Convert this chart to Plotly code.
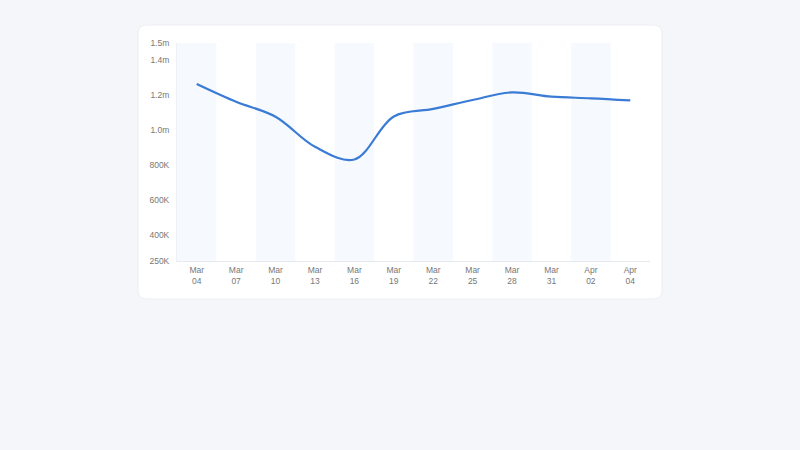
import plotly.graph_objects as go

categories = ["Mar 04", "Mar 07", "Mar 10", "Mar 13", "Mar 16", "Mar 19",
              "Mar 22", "Mar 25", "Mar 28", "Mar 31", "Apr 02", "Apr 04"]
tick_text = [c.replace(" ", "<br>") for c in categories]
values = [1265000, 1163000, 1077000, 905000, 832000, 1079000,
          1122000, 1173000, 1217000, 1192000, 1183000, 1171000]
y_tickvals = [250000, 400000, 600000, 800000, 1000000, 1200000, 1400000, 1500000]
y_ticktext = ["250K", "400K", "600K", "800K", "1.0m", "1.2m", "1.4m", "1.5m"]

L, R, T, B = 177, 150, 43, 189
W, H = 800, 450
pw, ph = W - L - R, H - T - B

def px_x(x):
    return (x - L) / pw

def px_y(y):
    return (H - B - y) / ph

# Card rounded rect path in paper coords
cx0, cx1, cy0, cy1 = px_x(138), px_x(662), px_y(299), px_y(25)
rx, ry = 9 / pw, 9 / ph
card = (f"M {cx0+rx},{cy0} L {cx1-rx},{cy0} Q {cx1},{cy0} {cx1},{cy0+ry} "
        f"L {cx1},{cy1-ry} Q {cx1},{cy1} {cx1-rx},{cy1} L {cx0+rx},{cy1} "
        f"Q {cx0},{cy1} {cx0},{cy1-ry} L {cx0},{cy0+ry} Q {cx0},{cy0} {cx0+rx},{cy0} Z")

shapes = [dict(type="path", path=card, xref="paper", yref="paper",
               fillcolor="white", line=dict(color="#eceef2", width=1), layer="below")]
for i in range(0, len(categories), 2):
    shapes.append(dict(type="rect", xref="x", yref="paper", x0=i - 0.5, x1=i + 0.5,
                       y0=0, y1=1, fillcolor="#f6f9fe", line=dict(width=0), layer="below"))

fig = go.Figure(go.Scatter(
    x=categories, y=values, mode="lines",
    line=dict(color="#3a7bd5", width=2.2, shape="spline", smoothing=1.0),
    hoverinfo="x+y"))

fig.update_layout(
    width=W, height=H,
    margin=dict(l=L, r=R, t=T, b=B),
    paper_bgcolor="#f4f6f9",
    plot_bgcolor="rgba(0,0,0,0)",
    font=dict(family="Liberation Sans, Arial, sans-serif", size=9, color="#777"),
    showlegend=False,
    shapes=shapes,
    xaxis=dict(type="category", tickmode="array", tickvals=categories, ticktext=tick_text,
               tickfont=dict(size=8.5),
               showgrid=False, zeroline=False, showline=True, linecolor="#e6e9ee",
               linewidth=1, ticks="outside", ticklen=1, tickcolor="rgba(0,0,0,0)",
               range=[-0.5, len(categories) - 0.5]),
    yaxis=dict(range=[250000, 1500000], tickmode="array", tickvals=y_tickvals,
               ticktext=y_ticktext, tickfont=dict(size=8.5),
               showgrid=False, zeroline=False, showline=True,
               linecolor="#eef0f4", linewidth=1, ticks="outside", ticklen=5,
               tickcolor="rgba(0,0,0,0)"),
)

fig.write_html("out.html", config={"displayModeBar": False},
               post_script="document.body.style.margin='0';"
                           "document.body.style.background='#f4f6f9';")
